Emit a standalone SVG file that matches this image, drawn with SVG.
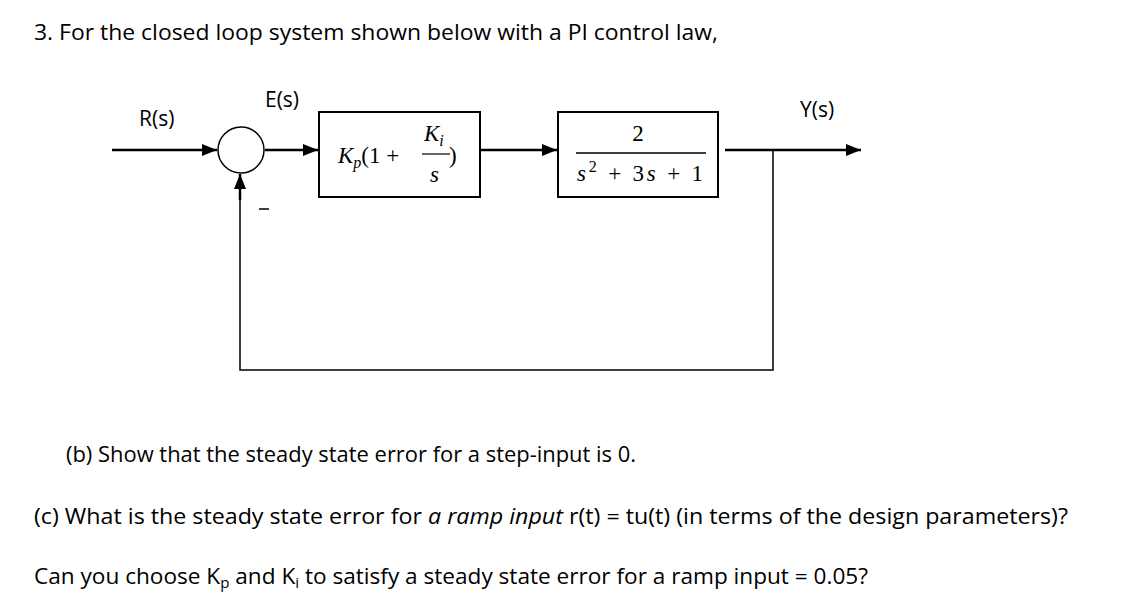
<svg xmlns="http://www.w3.org/2000/svg" width="1132" height="611" viewBox="0 0 1132 611">
<style>
.t{font-family:"Open Sans","Liberation Sans",sans-serif;font-size:21px;fill:#000}
.m{font-family:"Liberation Serif",serif;font-size:23px;fill:#000}
.i{font-style:italic}
.ln{stroke:#000;stroke-width:2.5;fill:none}
.bx{stroke:#000;stroke-width:2;fill:#fff}
</style>
<defs><marker id="b" markerWidth="16" markerHeight="12" refX="15" refY="6" orient="auto" markerUnits="userSpaceOnUse"><path d="M0,0L15,6L0,12z"/></marker></defs>
<rect width="1132" height="611" fill="#fff"/>
<text class="t" x="34" y="40" textLength="684" lengthAdjust="spacingAndGlyphs">3. For the closed loop system shown below with a PI control law,</text>
<g id="connectors">
<line class="ln" x1="112" y1="150" x2="217" y2="150" marker-end="url(#b)"/>
<line class="ln" x1="265" y1="150" x2="318" y2="150" marker-end="url(#b)"/>
<line class="ln" x1="481" y1="150" x2="557" y2="150" marker-end="url(#b)"/>
<line class="ln" x1="725" y1="150" x2="861" y2="150" marker-end="url(#b)"/>
<polyline fill="none" stroke="#000" stroke-width="1.5" points="773,150 773,370 240,370 240,190"/>
<line class="ln" x1="240" y1="200" x2="240" y2="174" marker-end="url(#b)"/>
</g>
<g id="sum"><circle cx="241" cy="150" r="23" fill="#fff" stroke="#000" stroke-width="1.5"/></g>
<g id="pi"><rect class="bx" x="319" y="112" width="161" height="85"/>
<text class="m i" x="338" y="163">K<tspan font-size="16" dy="5">p</tspan><tspan font-style="normal" dy="-5">(1 +</tspan></text>
<text class="m i" x="424" y="141">K<tspan font-size="16" dy="5">i</tspan></text>
<line x1="422" y1="154" x2="450" y2="154" stroke="#000" stroke-width="1.2"/>
<text class="m i" x="430" y="182">s</text>
<text class="m" x="449" y="163">)</text></g>
<g id="plant"><rect class="bx" x="558" y="112" width="160" height="85"/>
<text class="m" x="638" y="141" text-anchor="middle">2</text>
<line x1="576" y1="153" x2="706" y2="153" stroke="#000" stroke-width="1.5"/>
<text class="m" x="577" y="181" textLength="126"><tspan class="i">s</tspan><tspan font-size="16" dy="-9">2</tspan><tspan dy="9"> + 3</tspan><tspan class="i">s</tspan> + 1</text></g>
<text class="t" x="139" y="126">R(s)</text>
<text class="t" x="265" y="107">E(s)</text>
<text class="t" x="800" y="117">Y(s)</text>
<line x1="259" y1="209" x2="269" y2="209" stroke="#000" stroke-width="1.5"/>
<text class="t" x="66" y="462" textLength="570" lengthAdjust="spacingAndGlyphs">(b) Show that the steady state error for a step-input is 0.</text>
<text class="t" x="34" y="524" textLength="1034" lengthAdjust="spacingAndGlyphs">(c) What is the steady state error for <tspan font-style="italic">a ramp input</tspan> r(t) = tu(t) (in terms of the design parameters)?</text>
<text class="t" x="34" y="584" textLength="834" lengthAdjust="spacingAndGlyphs">Can you choose K<tspan font-size="14" dy="4">p</tspan><tspan dy="-4"> and K</tspan><tspan font-size="14" dy="4">i</tspan><tspan dy="-4"> to satisfy a steady state error for a ramp input = 0.05?</tspan></text>
</svg>
